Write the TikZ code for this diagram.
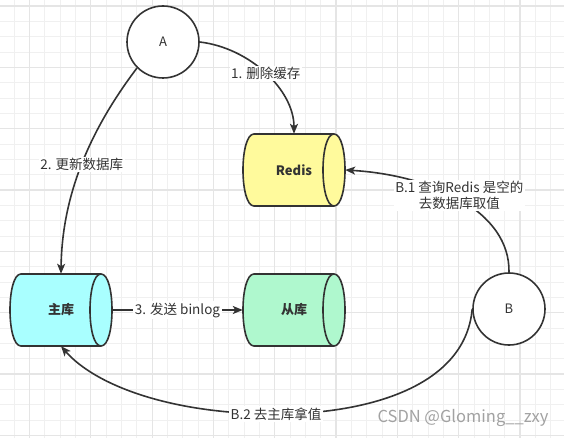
\documentclass[tikz,border=0pt]{standalone}
\usepackage{fontspec}
\setmainfont{Noto Sans CJK SC}
\usetikzlibrary{arrows.meta}
\definecolor{ink}{HTML}{333333}
\definecolor{gridminor}{HTML}{F0F0F0}
\definecolor{gridmajor}{HTML}{E5E5E5}
\definecolor{redisfill}{HTML}{FFFA9C}
\definecolor{masterfill}{HTML}{A9FFFF}
\definecolor{slavefill}{HTML}{AFF8CE}
\definecolor{wmgray}{HTML}{A2A2A2}
\tikzset{
  dbcyl/.pic={
    \path[pic actions] (-40,-36) -- (40,-36) .. controls (54.67,-36) and (54.67,36) .. (40,36) -- (-40,36) .. controls (-54.67,36) and (-54.67,-36) .. (-40,-36) -- cycle;
    \path[pic actions, fill=none] (40,-36) .. controls (25.33,-36) and (25.33,36) .. (40,36);
  },
  cylstyle/.style={draw=ink, line width=1.6pt},
  dbtext/.style={minimum width=102pt, minimum height=72pt, inner sep=0pt, text=ink, font=\fontsize{13}{15}\selectfont\bfseries},
  client/.style={circle, draw=ink, line width=1.6pt, fill=white, minimum size=72pt, inner sep=0pt, text=ink, font=\fontsize{13}{15}\selectfont},
  conn/.style={draw=ink, line width=1.6pt, -{Stealth[length=10pt,width=8pt,inset=2.5pt]}},
  lbl/.style={fill=white, inner sep=1.5pt, text=ink, font=\fontsize{13.5}{16}\selectfont, align=center},
}
\begin{document}
\begin{tikzpicture}[x=1pt,y=-1pt]
\useasboundingbox (0,0) rectangle (564,438);
\fill[white] (0,0) rectangle (564,438);
% grid
\foreach \i in {0,...,37} \draw[gridminor, line width=0.8pt] ({-1.2+15.33*\i},0) -- ({-1.2+15.33*\i},438);
\foreach \j in {0,...,29} \draw[gridminor, line width=0.8pt] (0,{-9.33+15.33*\j}) -- (564,{-9.33+15.33*\j});
\foreach \k in {0,...,8} \draw[gridmajor, line width=1.2pt] ({29.46+61.32*\k},0) -- ({29.46+61.32*\k},438);
\foreach \k in {0,...,7} \draw[gridmajor, line width=1.2pt] (0,{6+61.32*\k}) -- (564,{6+61.32*\k});

% cylinders
\pic[cylstyle, fill=redisfill] at (294,170) {dbcyl};
\pic[cylstyle, fill=masterfill] at (61,310) {dbcyl};
\pic[cylstyle, fill=slavefill] at (294,310) {dbcyl};
\node[dbtext] (redis) at (294,170) {Redis\hspace{20pt}};
\node[dbtext] (master) at (61,310) {主库\hspace{20pt}};
\node[dbtext] (slave) at (294,310) {从库\hspace{20pt}};

% clients
\node[client] (A) at (163,42) {A};
\node[client] (B) at (509,309) {B};

% connectors
\draw[conn] (A.east) .. controls (250,48) and (294,90) .. (redis.north)
  node[lbl, pos=0.5] {1. 删除缓存};
\draw[conn] (A.225) .. controls (90,130) and (62,195) .. (master.north)
  node[lbl, pos=0.5] {2. 更新数据库};
\draw[conn] (master.east) -- (slave.west)
  node[lbl, midway] {3. 发送 binlog};
\draw[conn] (B.north) .. controls (510,210) and (430,175) .. (redis.east)
  node[lbl, pos=0.5, yshift=4pt] {B.1 查询Redis 是空的\\去数据库取值};
\coordinate (b2mid) at (276,414);
\draw[conn] (B.west) .. controls (465,390) and (360,414) .. (b2mid)
  .. controls (170,414) and (95,385) .. (master.south);
\node[lbl] (b2lbl) at (b2mid) {B.2 去主库拿值};

% watermark
\node[text=wmgray, font=\fontsize{16.5}{18}\selectfont, inner sep=0pt] (wm) at (463,418) {CSDN @Gloming\_\_zxy};
\end{tikzpicture}
\end{document}
